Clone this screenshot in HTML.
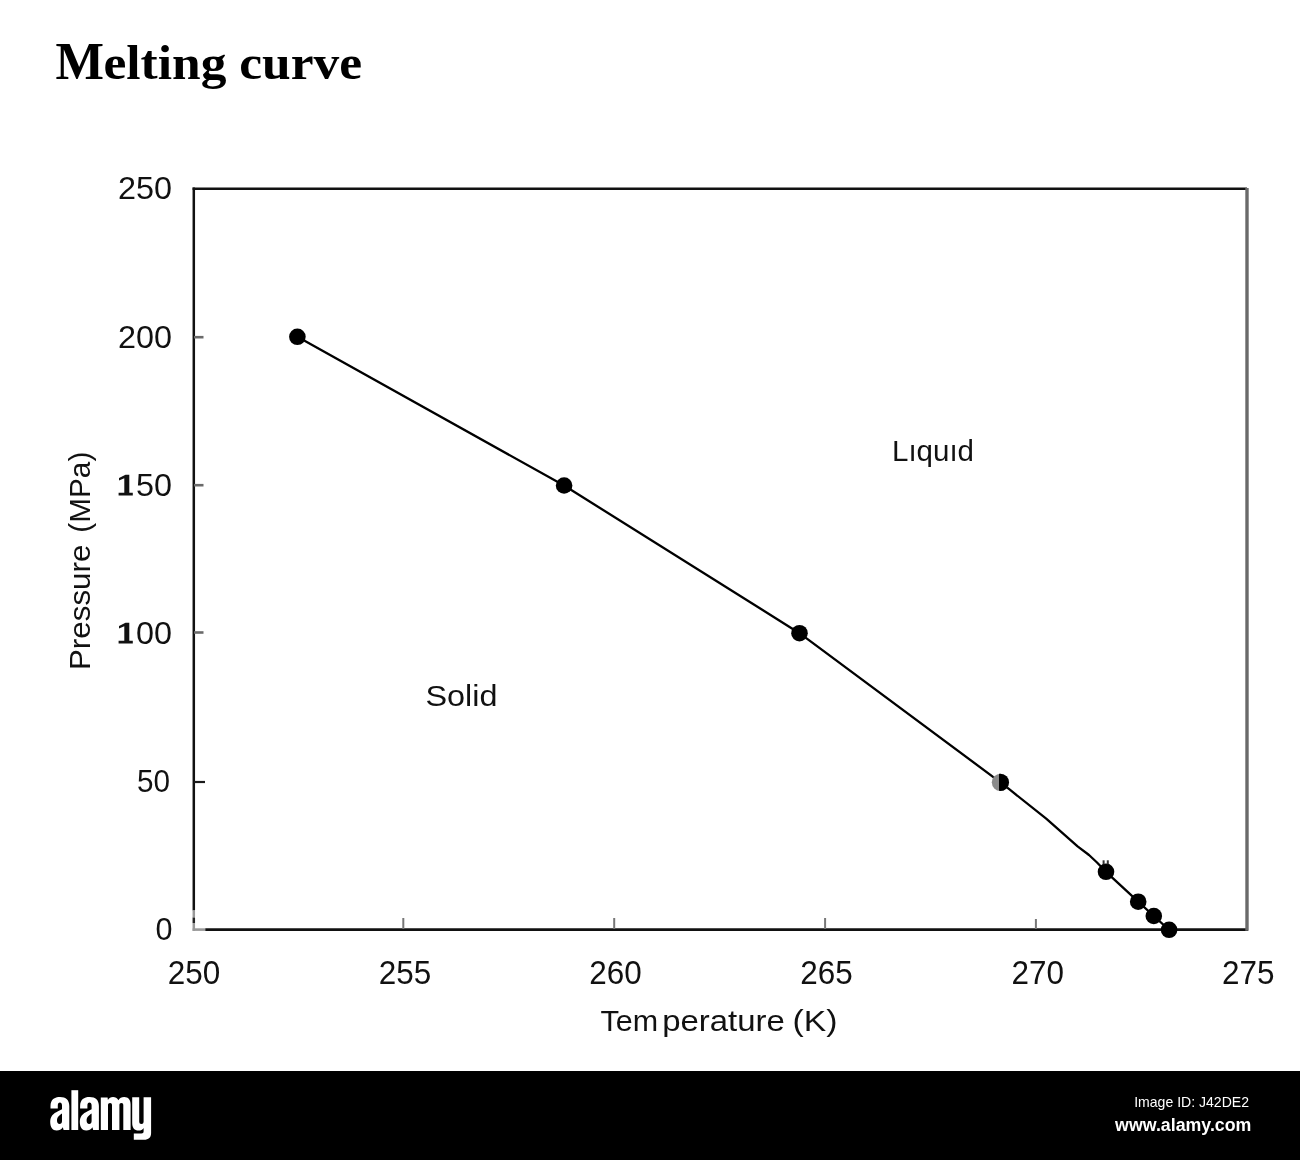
<!DOCTYPE html>
<html>
<head>
<meta charset="utf-8">
<style>
html,body{margin:0;padding:0;background:#fff;}
body{width:1300px;height:1160px;overflow:hidden;position:relative;}
svg{position:absolute;left:0;top:0;display:block;will-change:transform;}
.sans{font-family:"Liberation Sans",sans-serif;}
.serif{font-family:"Liberation Serif",serif;}
</style>
</head>
<body>
<svg width="1300" height="1160" viewBox="0 0 1300 1160">
  <defs><clipPath id="clipR"><rect x="998.9" y="760" width="30" height="40"/></clipPath></defs>
  <rect x="0" y="0" width="1300" height="1160" fill="#fff"/>
  <!-- Title -->
  <text class="serif" x="55.5" y="78.8" font-size="52.5" font-weight="bold" fill="#000" textLength="48.5" lengthAdjust="spacingAndGlyphs">M</text>
  <text class="serif" x="103.5" y="78.8" font-size="49.5" font-weight="bold" fill="#000" textLength="258.5" lengthAdjust="spacingAndGlyphs">elting curve</text>

  <!-- plot frame -->
  <line x1="192.6" y1="188.8" x2="1247" y2="188.8" stroke="#111" stroke-width="2.5"/>
  <line x1="193.8" y1="187.6" x2="193.8" y2="910.5" stroke="#111" stroke-width="2.5"/>
  <line x1="193.8" y1="910.5" x2="193.8" y2="917.5" stroke="#999" stroke-width="2.5"/>
  <line x1="193.8" y1="917.5" x2="193.8" y2="923" stroke="#222" stroke-width="2.5"/>
  <line x1="193.8" y1="923" x2="193.8" y2="930.9" stroke="#999" stroke-width="2.5"/>
  <line x1="192.6" y1="929.6" x2="205.3" y2="929.6" stroke="#999" stroke-width="2.6"/>
  <line x1="205.3" y1="929.6" x2="1248" y2="929.6" stroke="#111" stroke-width="2.6"/>
  <line x1="1247" y1="188" x2="1247" y2="930.8" stroke="#6a6a6a" stroke-width="3.4"/>

  <!-- y ticks -->
  <g stroke="#6a6a6a" stroke-width="2.6">
    <line x1="194" y1="337.2" x2="203.5" y2="337.2"/>
    <line x1="194" y1="485.2" x2="203.5" y2="485.2"/>
    <line x1="194" y1="632.5" x2="203.5" y2="632.5"/>
  </g>
  <line x1="194" y1="782" x2="205" y2="782" stroke="#1a1a1a" stroke-width="2.2"/>
  <!-- x ticks -->
  <g stroke="#777" stroke-width="2">
    <line x1="403.3" y1="918" x2="403.3" y2="929"/>
    <line x1="614.2" y1="918" x2="614.2" y2="929"/>
    <line x1="825.1" y1="918" x2="825.1" y2="929"/>
    <line x1="1035.9" y1="919" x2="1035.9" y2="929"/>
  </g>

  <!-- y labels -->
  <g class="sans" font-size="31" fill="#111" text-anchor="end">
    <text x="172" y="199.3" textLength="54" lengthAdjust="spacingAndGlyphs">250</text>
    <text x="172" y="347.5" textLength="54" lengthAdjust="spacingAndGlyphs">200</text>
    <text x="172" y="495.7" textLength="36" lengthAdjust="spacingAndGlyphs">50</text>
    <text x="172" y="643.9" textLength="36" lengthAdjust="spacingAndGlyphs">00</text>
    <text x="170" y="792.3" textLength="33" lengthAdjust="spacingAndGlyphs">50</text>
    <text x="172.5" y="940.3" textLength="17" lengthAdjust="spacingAndGlyphs">0</text>
  </g>

  <g fill="#111">
    <path transform="translate(0,495.5)" d="M118.6,0 L132.8,0 L132.8,-2.8 L129.3,-2.8 L129.3,-20.8 L125.5,-20.8 L119,-17.6 L119,-15 L124.3,-17.2 L124.3,-2.8 L118.6,-2.8 Z"/>
    <path transform="translate(0,643.5)" d="M118.6,0 L132.8,0 L132.8,-2.8 L129.3,-2.8 L129.3,-20.8 L125.5,-20.8 L119,-17.6 L119,-15 L124.3,-17.2 L124.3,-2.8 L118.6,-2.8 Z"/>
  </g>

  <!-- x labels -->
  <g class="sans" font-size="33" fill="#111" text-anchor="middle">
    <text x="194" y="983.6" textLength="52.5" lengthAdjust="spacingAndGlyphs">250</text>
    <text x="405" y="983.6" textLength="52.5" lengthAdjust="spacingAndGlyphs">255</text>
    <text x="615.5" y="983.6" textLength="52.5" lengthAdjust="spacingAndGlyphs">260</text>
    <text x="826.6" y="983.6" textLength="52.5" lengthAdjust="spacingAndGlyphs">265</text>
    <text x="1037.7" y="983.6" textLength="52.5" lengthAdjust="spacingAndGlyphs">270</text>
    <text x="1248.2" y="983.6" textLength="52.5" lengthAdjust="spacingAndGlyphs">275</text>
  </g>

  <!-- axis titles -->
  <g class="sans" font-size="29.4" fill="#111">
    <text x="600.5" y="1030.8" textLength="57.6" lengthAdjust="spacingAndGlyphs">Tem</text>
    <text x="662.2" y="1030.8" textLength="122.6" lengthAdjust="spacingAndGlyphs">perature</text>
    <text x="792.5" y="1030.8" textLength="45" lengthAdjust="spacingAndGlyphs">(K)</text>
  </g>
  <g class="sans" font-size="29.8" fill="#111">
    <text transform="translate(89.5,670.1) rotate(-90)" x="0" y="0" textLength="125.5" lengthAdjust="spacingAndGlyphs">Pressure</text>
    <text transform="translate(89.5,532.7) rotate(-90)" x="0" y="0" textLength="81" lengthAdjust="spacingAndGlyphs">(MPa)</text>
  </g>

  <!-- region labels -->
  <text class="sans" x="892" y="461" font-size="29.3" fill="#111" textLength="82" lengthAdjust="spacingAndGlyphs">L&#305;qu&#305;d</text>
  <text class="sans" x="425.5" y="706.2" font-size="29.3" fill="#111" textLength="72" lengthAdjust="spacingAndGlyphs">Solid</text>

  <!-- curve -->
  <polyline fill="none" stroke="#000" stroke-width="2.3" stroke-linejoin="round"
    points="297.4,336.8 564.1,485.5 799.5,633.2 1000.4,782.3 1009.2,789.2 1046.2,818.6 1077.6,846.3 1089,855 1097,862.5 1106,871.8 1138.2,901.7 1153.8,916 1169.1,929.8"/>
  <g fill="#000">
    <circle cx="297.4" cy="336.8" r="8.3"/>
    <circle cx="564.1" cy="485.5" r="8.3"/>
    <circle cx="799.5" cy="633.2" r="8.3"/>
    <circle cx="1000.4" cy="782.3" r="8.6" fill="#8a8a8a"/>
    <circle cx="1000.4" cy="782.3" r="8.6" fill="#000" clip-path="url(#clipR)"/>
    <circle cx="1106" cy="871.8" r="8.3"/>
    <circle cx="1138.2" cy="901.7" r="8.3"/>
    <circle cx="1153.8" cy="916" r="8.3"/>
    <circle cx="1169.1" cy="929.8" r="8.3"/>
  </g>

  <g fill="#333">
    <rect x="1102.6" y="860.3" width="2" height="4"/>
    <rect x="1106.8" y="860.3" width="2" height="4"/>
  </g>

  <!-- footer bar -->
  <rect x="0" y="1071" width="1300" height="89" fill="#000"/>
  <!-- alamy logo -->
  <g fill="#fff" fill-rule="evenodd">
    <!-- a -->
    <path id="la" d="M50.5,1108.5 L50.5,1106 C50.5,1099.5 54.5,1096.9 60,1096.9 C66,1096.9 69.3,1100 69.3,1106 L69.3,1130 L63.6,1130 L62.8,1127.3 C61.5,1129.6 59.3,1130.5 56.6,1130.5 C52.6,1130.5 50.2,1127.2 50.2,1122 C50.2,1116 53.2,1113.6 58,1111.2 L62,1109.2 L62,1105.5 C62,1103.6 61.1,1102.5 59.9,1102.5 C58.6,1102.5 57.8,1103.6 57.8,1105.5 L57.8,1108.5 Z M62,1113.6 C59.8,1115.2 57,1116.8 57,1120.6 C57,1123 58,1124 59.5,1124 C61.1,1124 62,1122.8 62,1121 Z"/>
    <!-- l -->
    <rect x="71.4" y="1090.2" width="6.8" height="39.8"/>
    <!-- a -->
    <use href="#la" x="29.6" y="0"/>
    <!-- m -->
    <path d="M100.8,1097.5 L107.6,1097.5 L107.9,1100 C109,1098 110.8,1096.9 113,1096.9 C115.3,1096.9 117.2,1098 118.4,1100.2 C119.6,1098 121.6,1096.9 124.2,1096.9 C128.3,1096.9 130.6,1099.6 130.6,1104.5 L130.6,1130 L123.3,1130 L123.3,1105.3 C123.3,1103.8 122.6,1103 121.4,1103 C120.1,1103 119.4,1103.8 119.4,1105.3 L119.4,1130 L112,1130 L112,1105.3 C112,1103.8 111.3,1103 110.1,1103 C108.8,1103 108,1103.8 108,1105.3 L108,1130 L100.8,1130 Z"/>
    <!-- y -->
    <path d="M132.2,1097.2 L139.2,1097.2 L139.2,1121.5 C139.2,1123.2 140,1124 141.4,1124 C142.8,1124 143.6,1123.2 143.6,1121.5 L143.6,1097.2 L151.1,1097.2 L151.1,1133 C151.1,1137.5 148.6,1139.8 144,1139.8 L133.8,1139.8 L133.8,1133.4 L141.4,1133.4 C142.9,1133.4 143.6,1132.8 143.6,1131.2 L143.6,1128 C142.5,1129.8 140.8,1130.6 138.6,1130.6 C134.5,1130.6 132.2,1128 132.2,1123 Z"/>
  </g>
  <text class="sans" x="1134.2" y="1106.8" font-size="14.5" fill="#fff" textLength="114.8" lengthAdjust="spacingAndGlyphs">Image ID: J42DE2</text>
  <text class="sans" x="1115.1" y="1130.8" font-size="17.5" font-weight="bold" fill="#fff" textLength="136.3" lengthAdjust="spacingAndGlyphs">www.alamy.com</text>
</svg>
</body>
</html>
